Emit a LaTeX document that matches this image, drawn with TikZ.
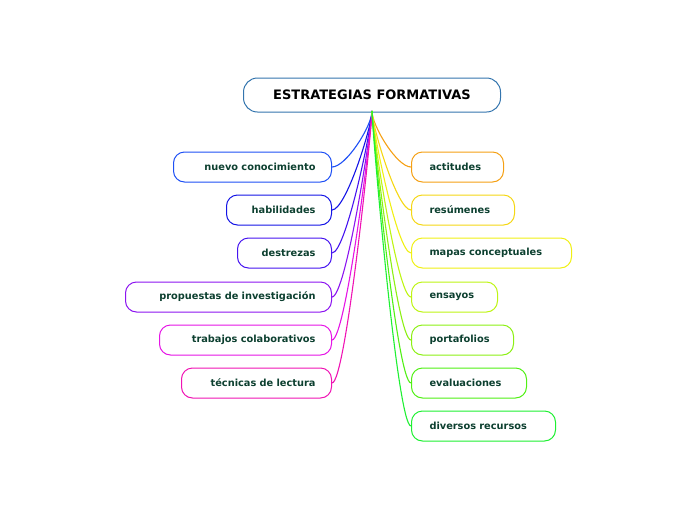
\documentclass[tikz,border=0pt]{standalone}
\usepackage{fontspec}
\setmainfont{DejaVu Sans}[BoldFont={DejaVu Sans Bold}]
\usetikzlibrary{calc}
\definecolor{tx}{HTML}{0D4030}
\begin{document}
\begin{tikzpicture}[x=1pt,y=-1pt,
  leaf/.style={draw=#1,line width=1pt,rounded corners=11pt,minimum height=30pt,inner xsep=0pt,font=\bfseries\fontsize{9.8}{12}\selectfont,text=tx,fill=white},
  br/.style={draw=#1,line width=1.1pt}]
\useasboundingbox (0,0) rectangle (697,520);
\node[draw=black!30!cyan!70!blue,line width=1pt,rounded corners=14pt,minimum width=257pt,minimum height=34pt,font=\bfseries\fontsize{13}{15}\selectfont,text=black] (root) at (372,95) {ESTRATEGIAS FORMATIVAS};
\coordinate (r) at (372,111);
\foreach \n/\y/\w/\c/\t in {
 a/167/158/{rgb,255:red,30;green,80;blue,245}/{nuevo conocimiento},
 b/210/105/{rgb,255:red,20;green,20;blue,230}/{habilidades},
 c/253/94/{rgb,255:red,70;green,20;blue,240}/{destrezas},
 d/297/206/{rgb,255:red,140;green,20;blue,240}/{propuestas de investigación},
 e/340/172/{rgb,255:red,230;green,20;blue,230}/{trabajos colaborativos},
 f/383/150/{rgb,255:red,240;green,20;blue,180}/{técnicas de lectura}}{
  \pgfmathsetmacro\tw{\w-32}
  \node[leaf=\c,minimum width=\w pt,text width=\tw pt,align=right,anchor=east] (\n) at (332,\y) {\t};
  \draw[br=\c] (r) .. controls ($(r)+(0,15)$) and ($(\n.east)+(14,0)$) .. (\n.east);
}
\foreach \n/\y/\w/\c/\t in {
 g/167/92/{rgb,255:red,245;green,160;blue,20}/{actitudes},
 h/210/103/{rgb,255:red,245;green,215;blue,20}/{resúmenes},
 i/253/160/{rgb,255:red,240;green,240;blue,20}/{mapas conceptuales},
 j/297/86/{rgb,255:red,190;green,245;blue,20}/{ensayos},
 k/340/102/{rgb,255:red,140;green,240;blue,20}/{portafolios},
 l/383/115/{rgb,255:red,80;green,240;blue,20}/{evaluaciones},
 m/426/144/{rgb,255:red,30;green,240;blue,50}/{diversos recursos}}{
  \pgfmathsetmacro\tw{\w-36}
  \node[leaf=\c,minimum width=\w pt,text width=\tw pt,align=left,anchor=west] (\n) at (411,\y) {\t};
  \draw[br=\c] (r) .. controls ($(r)+(0,15)$) and ($(\n.west)+(-14,0)$) .. (\n.west);
}
\end{tikzpicture}
\end{document}
